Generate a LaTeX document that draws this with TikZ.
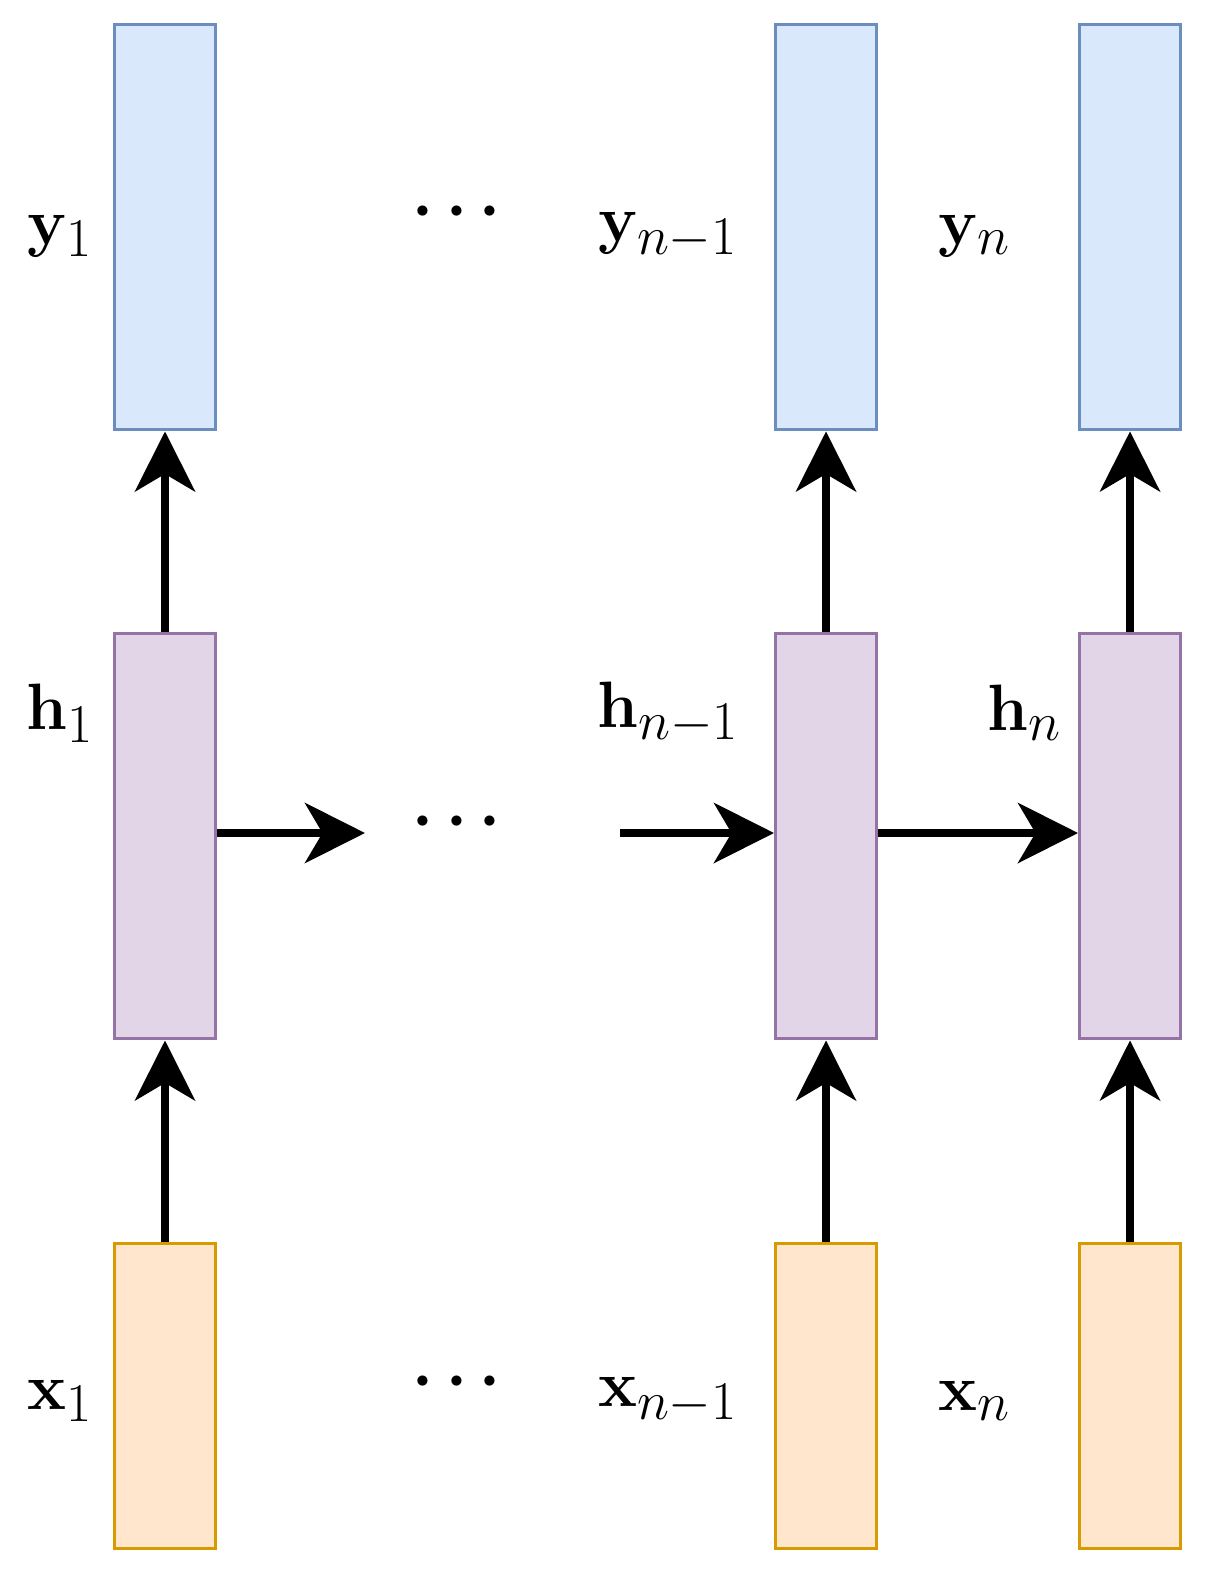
\documentclass[tikz,border=0pt]{standalone}
\usepackage{amsmath,bm}
\usetikzlibrary{arrows.meta}
\definecolor{bfill}{HTML}{DAE8FC}\definecolor{bdraw}{HTML}{6C8EBF}
\definecolor{pfill}{HTML}{E1D5E7}\definecolor{pdraw}{HTML}{9673A6}
\definecolor{ofill}{HTML}{FFE6CC}\definecolor{odraw}{HTML}{D79B00}
\begin{document}
\begin{tikzpicture}[x=0.02cm,y=-0.02cm,
  cell/.style={draw,line width=1.7pt,minimum width=2.02cm,inner sep=0},
  ycell/.style={cell,fill=bfill,draw=bdraw,minimum height=8.12cm},
  hcell/.style={cell,fill=pfill,draw=pdraw,minimum height=8.12cm},
  xcell/.style={cell,fill=ofill,draw=odraw,minimum height=6.12cm},
  lab/.style={font=\Huge,scale=1.5},
  arr/.style={line width=4.5pt,-{Stealth[length=1.2cm,width=1.2cm,inset=0.35cm]}}]
\useasboundingbox (0,0) rectangle (1206,1575);
\node[ycell] (y1) at (165,227) {};
\node[ycell] (y2) at (826,227) {};
\node[ycell] (y3) at (1130,227) {};
\node[hcell] (h1) at (165,836) {};
\node[hcell] (h2) at (826,836) {};
\node[hcell] (h3) at (1130,836) {};
\node[xcell] (x1) at (165,1396) {};
\node[xcell] (x2) at (826,1396) {};
\node[xcell] (x3) at (1130,1396) {};
\node[lab] (ly1) at (60,236) {$\mathbf{y}_1$};
\node[lab] (ly2) at (668,236) {$\mathbf{y}_{n-1}$};
\node[lab] (ly3) at (975,236) {$\mathbf{y}_n$};
\node[lab] (lh1) at (60,713) {$\mathbf{h}_1$};
\node[lab] (lh2) at (668,713) {$\mathbf{h}_{n-1}$};
\node[lab] (lh3) at (1025,713) {$\mathbf{h}_n$};
\node[lab] (lx1) at (60,1401) {$\mathbf{x}_1$};
\node[lab] (lx2) at (668,1401) {$\mathbf{x}_{n-1}$};
\node[lab] (lx3) at (975,1401) {$\mathbf{x}_n$};
\node[lab] (d1) at (463,212) {$\bm{\cdots}$};
\node[lab] (d2) at (463,822) {$\bm{\cdots}$};
\node[lab] (d3) at (463,1382) {$\bm{\cdots}$};
\coordinate (c1) at (365,833);
\coordinate (c2) at (620,833);
\draw[arr] (h1.north) -- (y1.south);
\draw[arr] (h2.north) -- (y2.south);
\draw[arr] (h3.north) -- (y3.south);
\draw[arr] (x1.north) -- (h1.south);
\draw[arr] (x2.north) -- (h2.south);
\draw[arr] (x3.north) -- (h3.south);
\draw[arr] (h1.east |- c1) -- (c1);
\draw[arr] (c2) -- (h2.west |- c2);
\draw[arr] (h2.east |- c1) -- (h3.west |- c1);
\end{tikzpicture}
\end{document}
